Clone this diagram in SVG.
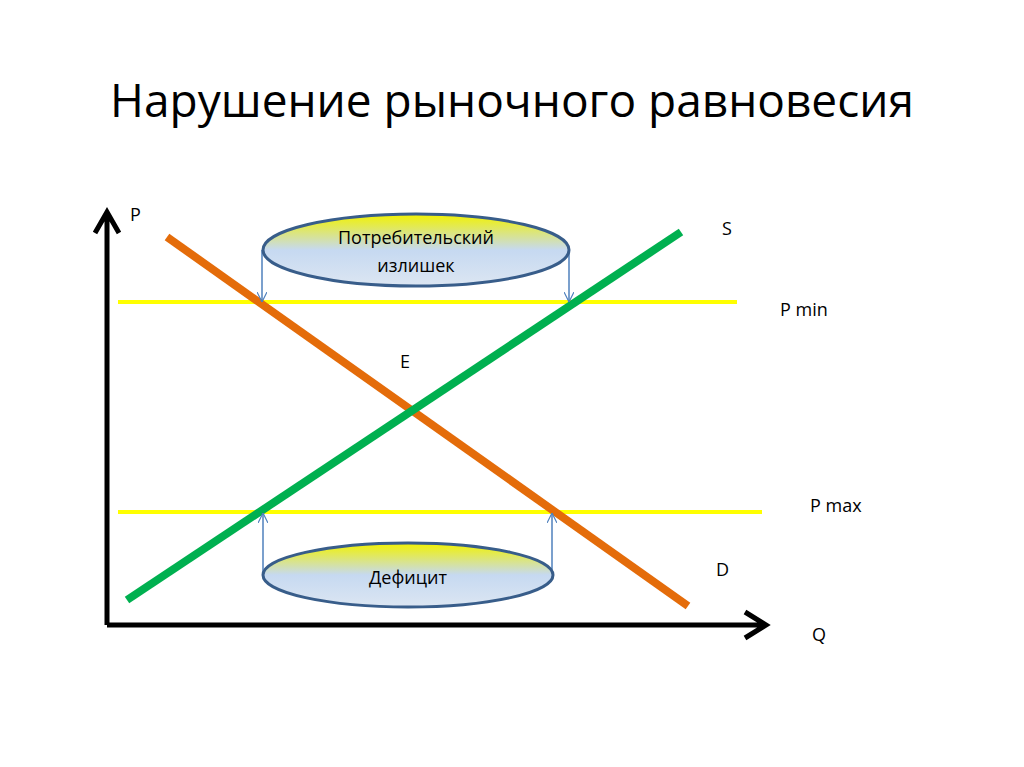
<svg xmlns="http://www.w3.org/2000/svg" width="1024" height="767" viewBox="0 0 1024 767">
<defs>
<linearGradient id="g" x1="0" y1="0" x2="0" y2="1"><stop offset="0" stop-color="#f2f200"/><stop offset="0.5" stop-color="#c6d9f1"/><stop offset="1" stop-color="#dce6f2"/></linearGradient>
<marker id="a" viewBox="0 0 10 10" refX="10" refY="5" markerWidth="10" markerHeight="10" orient="auto" markerUnits="userSpaceOnUse"><path d="M0,0 L10,5 L0,10" fill="none" stroke="#4f81bd" stroke-width="1.2"/></marker>
</defs>
<style>
text{font-family:"Open Sans","Liberation Sans",sans-serif;fill:#000}
.lbl{font-size:18px}
.ell{fill:url(#g);stroke:#385d8a;stroke-width:3}
.con{stroke:#4f81bd;stroke-width:1.5;fill:none;marker-end:url(#a)}
</style>
<rect width="1024" height="767" fill="#fff"/>
<text x="512" y="117" font-size="46" text-anchor="middle">Нарушение рыночного равновесия</text>
<g id="axes" stroke="#000" stroke-width="5" fill="none">
<path d="M107,625 V215 M95,233 L107,212 L119,233"/>
<path d="M107,625 H765 M745,612 L766,625 L745,638"/>
</g>
<g id="pmin"><line x1="118" y1="302" x2="737" y2="302" stroke="#ffff00" stroke-width="4"/></g>
<g id="pmax"><line x1="118" y1="512" x2="762" y2="512" stroke="#ffff00" stroke-width="4"/></g>
<g id="D"><line x1="167" y1="237" x2="688" y2="606" stroke="#e46c0a" stroke-width="8"/></g>
<g id="S"><line x1="127" y1="600" x2="681" y2="232" stroke="#00b050" stroke-width="8"/></g>
<g id="connectors">
<path class="con" d="M262,250 V302"/>
<path class="con" d="M569,250 V302"/>
<path class="con" d="M263,575 V513"/>
<path class="con" d="M552,575 V513"/>
</g>
<g id="surplus"><ellipse class="ell" cx="416" cy="250" rx="153" ry="36"/>
<text class="lbl" x="416" y="244" text-anchor="middle">Потребительский</text>
<text class="lbl" x="416" y="272" text-anchor="middle">излишек</text></g>
<g id="deficit"><ellipse class="ell" cx="408" cy="575" rx="145" ry="32"/>
<text class="lbl" x="408" y="584" text-anchor="middle">Дефицит</text></g>
<text class="lbl" x="130" y="221">P</text>
<text class="lbl" x="722" y="235">S</text>
<text class="lbl" x="780" y="316">P min</text>
<text class="lbl" x="400" y="368">E</text>
<text class="lbl" x="810" y="512">P max</text>
<text class="lbl" x="716" y="576">D</text>
<text class="lbl" x="812" y="641">Q</text>
</svg>
